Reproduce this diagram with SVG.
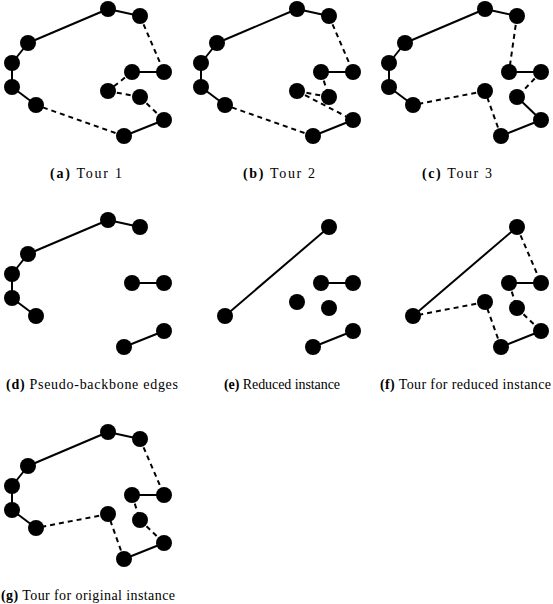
<svg xmlns="http://www.w3.org/2000/svg" width="553" height="604" viewBox="0 0 553 604">
<style>
.s{stroke:#000;stroke-width:2;fill:none}
.d{stroke:#000;stroke-width:2;fill:none;stroke-dasharray:5 4}
.n{fill:#000}
.lab{font-family:"Liberation Serif","Times New Roman",serif;font-size:14px;fill:#000}
.b{font-weight:bold}
</style>
<rect width="553" height="604" fill="#fff"/>

<!-- (a) Tour 1 -->
<g id="panel-a">
<g id="a-connectors">
<line class="s" x1="108" y1="9" x2="140" y2="16"/>
<line class="s" x1="164" y1="72" x2="132" y2="72"/>
<line class="s" x1="164" y1="120" x2="124" y2="136"/>
<line class="s" x1="36" y1="105" x2="12" y2="87"/>
<line class="s" x1="12" y1="87" x2="12" y2="63"/>
<line class="s" x1="12" y1="63" x2="28" y2="43"/>
<line class="s" x1="28" y1="43" x2="108" y2="9"/>
<line class="d" x1="140" y1="16" x2="164" y2="72"/>
<line class="d" x1="132" y1="72" x2="108" y2="91"/>
<line class="d" x1="108" y1="91" x2="140" y2="97"/>
<line class="d" x1="140" y1="97" x2="164" y2="120"/>
<line class="d" x1="124" y1="136" x2="36" y2="105"/>
</g>
<g id="a-n1"><circle class="n" cx="108" cy="9" r="8"/></g>
<g id="a-n2"><circle class="n" cx="140" cy="16" r="8"/></g>
<g id="a-n3"><circle class="n" cx="28" cy="43" r="8"/></g>
<g id="a-n4"><circle class="n" cx="12" cy="63" r="8"/></g>
<g id="a-n5"><circle class="n" cx="12" cy="87" r="8"/></g>
<g id="a-n6"><circle class="n" cx="36" cy="105" r="8"/></g>
<g id="a-n7"><circle class="n" cx="124" cy="136" r="8"/></g>
<g id="a-n8"><circle class="n" cx="164" cy="120" r="8"/></g>
<g id="a-n9"><circle class="n" cx="164" cy="72" r="8"/></g>
<g id="a-n10"><circle class="n" cx="132" cy="72" r="8"/></g>
<g id="a-n11"><circle class="n" cx="108" cy="91" r="8"/></g>
<g id="a-n12"><circle class="n" cx="140" cy="97" r="8"/></g>
</g>

<!-- (b) Tour 2 -->
<g id="panel-b" transform="translate(189,0)">
<g id="b-connectors">
<line class="s" x1="108" y1="9" x2="140" y2="16"/>
<line class="s" x1="164" y1="72" x2="132" y2="72"/>
<line class="s" x1="164" y1="120" x2="124" y2="136"/>
<line class="s" x1="36" y1="105" x2="12" y2="87"/>
<line class="s" x1="12" y1="87" x2="12" y2="63"/>
<line class="s" x1="12" y1="63" x2="28" y2="43"/>
<line class="s" x1="28" y1="43" x2="108" y2="9"/>
<line class="d" x1="140" y1="16" x2="164" y2="72"/>
<line class="d" x1="132" y1="72" x2="140" y2="97"/>
<line class="d" x1="140" y1="97" x2="108" y2="91"/>
<line class="d" x1="108" y1="91" x2="164" y2="120"/>
<line class="d" x1="124" y1="136" x2="36" y2="105"/>
</g>
<g id="b-n1"><circle class="n" cx="108" cy="9" r="8"/></g>
<g id="b-n2"><circle class="n" cx="140" cy="16" r="8"/></g>
<g id="b-n3"><circle class="n" cx="28" cy="43" r="8"/></g>
<g id="b-n4"><circle class="n" cx="12" cy="63" r="8"/></g>
<g id="b-n5"><circle class="n" cx="12" cy="87" r="8"/></g>
<g id="b-n6"><circle class="n" cx="36" cy="105" r="8"/></g>
<g id="b-n7"><circle class="n" cx="124" cy="136" r="8"/></g>
<g id="b-n8"><circle class="n" cx="164" cy="120" r="8"/></g>
<g id="b-n9"><circle class="n" cx="164" cy="72" r="8"/></g>
<g id="b-n10"><circle class="n" cx="132" cy="72" r="8"/></g>
<g id="b-n11"><circle class="n" cx="108" cy="91" r="8"/></g>
<g id="b-n12"><circle class="n" cx="140" cy="97" r="8"/></g>
</g>

<!-- (c) Tour 3 -->
<g id="panel-c" transform="translate(377,0)">
<g id="c-connectors">
<line class="s" x1="108" y1="9" x2="140" y2="16"/>
<line class="s" x1="132" y1="72" x2="164" y2="72"/>
<line class="s" x1="140" y1="97" x2="164" y2="120"/>
<line class="s" x1="164" y1="120" x2="124" y2="136"/>
<line class="s" x1="36" y1="105" x2="12" y2="87"/>
<line class="s" x1="12" y1="87" x2="12" y2="63"/>
<line class="s" x1="12" y1="63" x2="28" y2="43"/>
<line class="s" x1="28" y1="43" x2="108" y2="9"/>
<line class="d" x1="140" y1="16" x2="132" y2="72"/>
<line class="d" x1="164" y1="72" x2="140" y2="97"/>
<line class="d" x1="124" y1="136" x2="108" y2="91"/>
<line class="d" x1="108" y1="91" x2="36" y2="105"/>
</g>
<g id="c-n1"><circle class="n" cx="108" cy="9" r="8"/></g>
<g id="c-n2"><circle class="n" cx="140" cy="16" r="8"/></g>
<g id="c-n3"><circle class="n" cx="28" cy="43" r="8"/></g>
<g id="c-n4"><circle class="n" cx="12" cy="63" r="8"/></g>
<g id="c-n5"><circle class="n" cx="12" cy="87" r="8"/></g>
<g id="c-n6"><circle class="n" cx="36" cy="105" r="8"/></g>
<g id="c-n7"><circle class="n" cx="124" cy="136" r="8"/></g>
<g id="c-n8"><circle class="n" cx="164" cy="120" r="8"/></g>
<g id="c-n9"><circle class="n" cx="164" cy="72" r="8"/></g>
<g id="c-n10"><circle class="n" cx="132" cy="72" r="8"/></g>
<g id="c-n11"><circle class="n" cx="108" cy="91" r="8"/></g>
<g id="c-n12"><circle class="n" cx="140" cy="97" r="8"/></g>
</g>

<!-- (d) Pseudo-backbone edges -->
<g id="panel-d" transform="translate(0,211)">
<g id="d-connectors">
<line class="s" x1="108" y1="9" x2="140" y2="16"/>
<line class="s" x1="28" y1="43" x2="108" y2="9"/>
<line class="s" x1="12" y1="63" x2="28" y2="43"/>
<line class="s" x1="12" y1="87" x2="12" y2="63"/>
<line class="s" x1="36" y1="105" x2="12" y2="87"/>
<line class="s" x1="132" y1="72" x2="164" y2="72"/>
<line class="s" x1="124" y1="136" x2="164" y2="120"/>
</g>
<g id="d-n1"><circle class="n" cx="108" cy="9" r="8"/></g>
<g id="d-n2"><circle class="n" cx="140" cy="16" r="8"/></g>
<g id="d-n3"><circle class="n" cx="28" cy="43" r="8"/></g>
<g id="d-n4"><circle class="n" cx="12" cy="63" r="8"/></g>
<g id="d-n5"><circle class="n" cx="12" cy="87" r="8"/></g>
<g id="d-n6"><circle class="n" cx="36" cy="105" r="8"/></g>
<g id="d-n7"><circle class="n" cx="124" cy="136" r="8"/></g>
<g id="d-n8"><circle class="n" cx="164" cy="120" r="8"/></g>
<g id="d-n9"><circle class="n" cx="164" cy="72" r="8"/></g>
<g id="d-n10"><circle class="n" cx="132" cy="72" r="8"/></g>
</g>

<!-- (e) Reduced instance -->
<g id="panel-e" transform="translate(189,211)">
<g id="e-connectors">
<line class="s" x1="36" y1="105" x2="140" y2="16"/>
<line class="s" x1="132" y1="72" x2="164" y2="72"/>
<line class="s" x1="124" y1="136" x2="164" y2="120"/>
</g>
<g id="e-n2"><circle class="n" cx="140" cy="16" r="8"/></g>
<g id="e-n6"><circle class="n" cx="36" cy="105" r="8"/></g>
<g id="e-n7"><circle class="n" cx="124" cy="136" r="8"/></g>
<g id="e-n8"><circle class="n" cx="164" cy="120" r="8"/></g>
<g id="e-n9"><circle class="n" cx="164" cy="72" r="8"/></g>
<g id="e-n10"><circle class="n" cx="132" cy="72" r="8"/></g>
<g id="e-n11"><circle class="n" cx="108" cy="91" r="8"/></g>
<g id="e-n12"><circle class="n" cx="140" cy="97" r="8"/></g>
</g>

<!-- (f) Tour for reduced instance -->
<g id="panel-f" transform="translate(377,211)">
<g id="f-connectors">
<line class="s" x1="36" y1="105" x2="140" y2="16"/>
<line class="s" x1="132" y1="72" x2="164" y2="72"/>
<line class="s" x1="124" y1="136" x2="164" y2="120"/>
<line class="d" x1="140" y1="16" x2="164" y2="72"/>
<line class="d" x1="132" y1="72" x2="140" y2="97"/>
<line class="d" x1="140" y1="97" x2="164" y2="120"/>
<line class="d" x1="124" y1="136" x2="108" y2="91"/>
<line class="d" x1="108" y1="91" x2="36" y2="105"/>
</g>
<g id="f-n2"><circle class="n" cx="140" cy="16" r="8"/></g>
<g id="f-n6"><circle class="n" cx="36" cy="105" r="8"/></g>
<g id="f-n7"><circle class="n" cx="124" cy="136" r="8"/></g>
<g id="f-n8"><circle class="n" cx="164" cy="120" r="8"/></g>
<g id="f-n9"><circle class="n" cx="164" cy="72" r="8"/></g>
<g id="f-n10"><circle class="n" cx="132" cy="72" r="8"/></g>
<g id="f-n11"><circle class="n" cx="108" cy="91" r="8"/></g>
<g id="f-n12"><circle class="n" cx="140" cy="97" r="8"/></g>
</g>

<!-- (g) Tour for original instance -->
<g id="panel-g" transform="translate(0,423)">
<g id="g-connectors">
<line class="s" x1="108" y1="9" x2="140" y2="16"/>
<line class="s" x1="28" y1="43" x2="108" y2="9"/>
<line class="s" x1="12" y1="63" x2="28" y2="43"/>
<line class="s" x1="12" y1="87" x2="12" y2="63"/>
<line class="s" x1="36" y1="105" x2="12" y2="87"/>
<line class="s" x1="132" y1="72" x2="164" y2="72"/>
<line class="s" x1="124" y1="136" x2="164" y2="120"/>
<line class="d" x1="140" y1="16" x2="164" y2="72"/>
<line class="d" x1="132" y1="72" x2="140" y2="97"/>
<line class="d" x1="140" y1="97" x2="164" y2="120"/>
<line class="d" x1="124" y1="136" x2="108" y2="91"/>
<line class="d" x1="108" y1="91" x2="36" y2="105"/>
</g>
<g id="g-n1"><circle class="n" cx="108" cy="9" r="8"/></g>
<g id="g-n2"><circle class="n" cx="140" cy="16" r="8"/></g>
<g id="g-n3"><circle class="n" cx="28" cy="43" r="8"/></g>
<g id="g-n4"><circle class="n" cx="12" cy="63" r="8"/></g>
<g id="g-n5"><circle class="n" cx="12" cy="87" r="8"/></g>
<g id="g-n6"><circle class="n" cx="36" cy="105" r="8"/></g>
<g id="g-n7"><circle class="n" cx="124" cy="136" r="8"/></g>
<g id="g-n8"><circle class="n" cx="164" cy="120" r="8"/></g>
<g id="g-n9"><circle class="n" cx="164" cy="72" r="8"/></g>
<g id="g-n10"><circle class="n" cx="132" cy="72" r="8"/></g>
<g id="g-n11"><circle class="n" cx="108" cy="91" r="8"/></g>
<g id="g-n12"><circle class="n" cx="140" cy="97" r="8"/></g>
</g>

<!-- captions -->
<g id="captions">
<text class="lab" x="50" y="178" textLength="72" lengthAdjust="spacing"><tspan class="b">(a)</tspan> Tour 1</text>
<text class="lab" x="243" y="178" textLength="72" lengthAdjust="spacing"><tspan class="b">(b)</tspan> Tour 2</text>
<text class="lab" x="422" y="178" textLength="70" lengthAdjust="spacing"><tspan class="b">(c)</tspan> Tour 3</text>
<text class="lab" x="6" y="389" textLength="172" lengthAdjust="spacing"><tspan class="b">(d)</tspan> Pseudo-backbone edges</text>
<text class="lab" x="224" y="389" textLength="116" lengthAdjust="spacing"><tspan class="b">(e)</tspan> Reduced instance</text>
<text class="lab" x="380" y="389" textLength="171" lengthAdjust="spacing"><tspan class="b">(f)</tspan> Tour for reduced instance</text>
<text class="lab" x="1" y="600" textLength="174" lengthAdjust="spacing"><tspan class="b">(g)</tspan> Tour for original instance</text>
</g>
</svg>
